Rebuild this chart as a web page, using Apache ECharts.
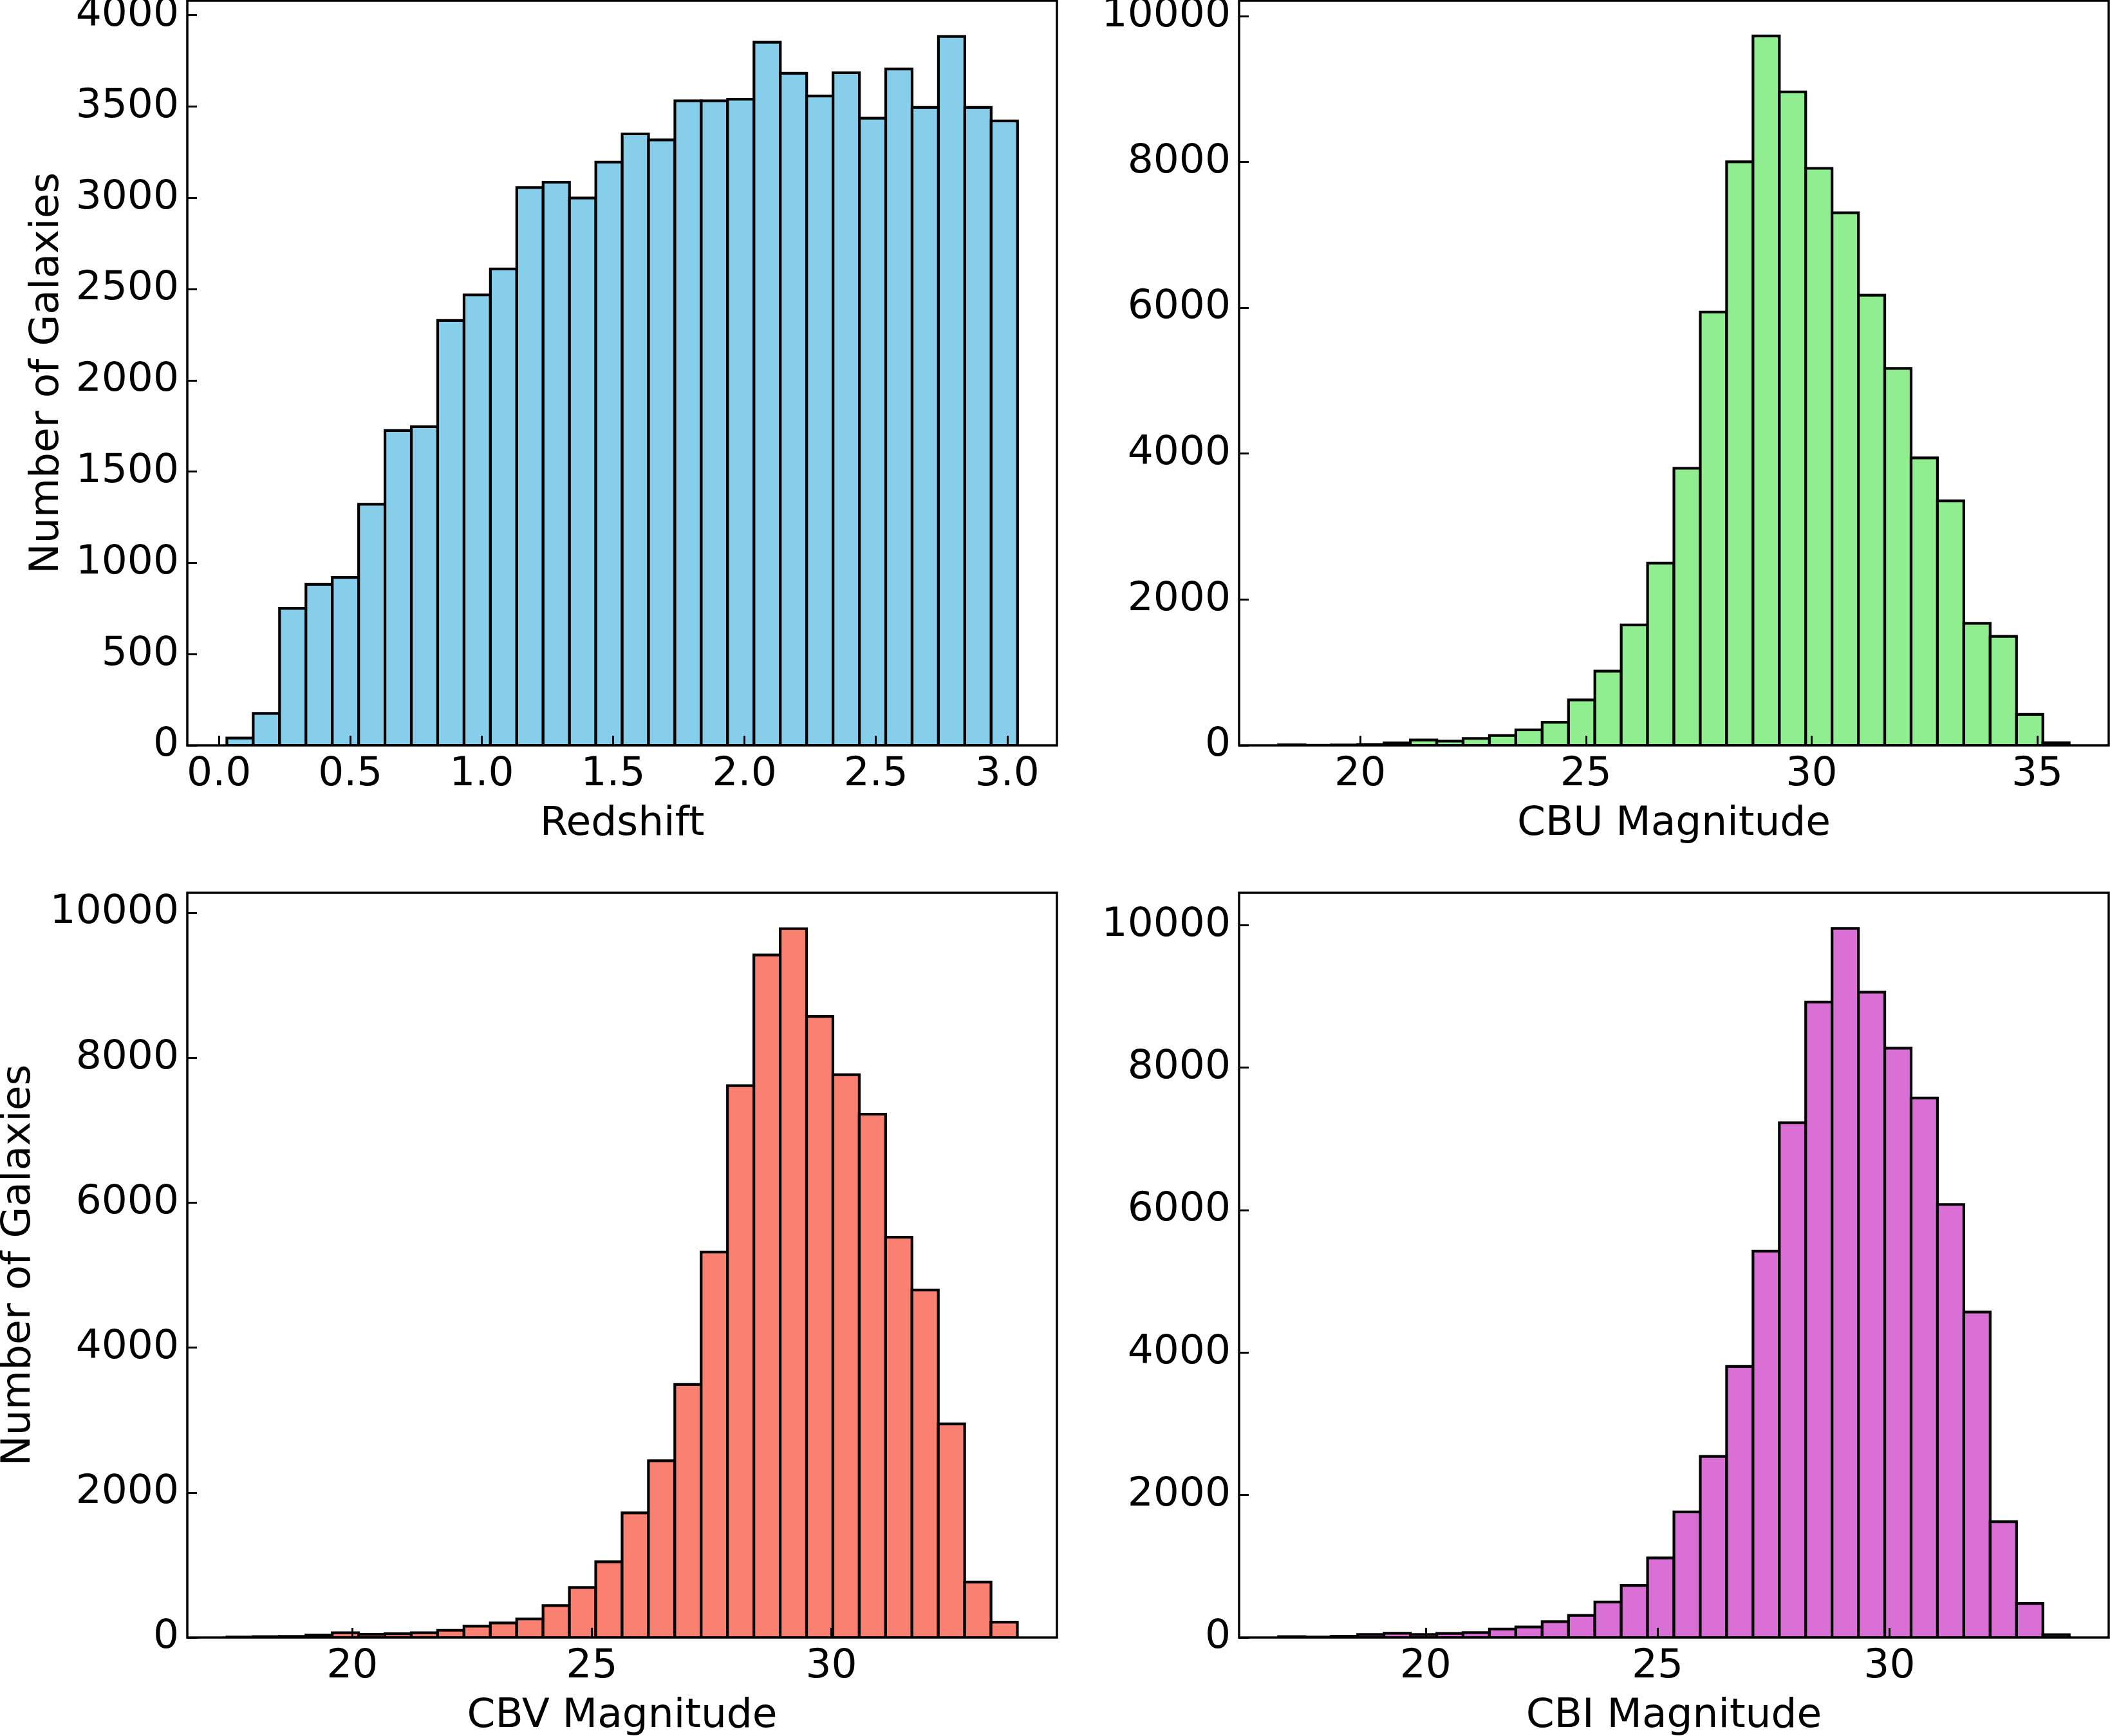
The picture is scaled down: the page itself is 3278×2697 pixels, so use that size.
<!DOCTYPE html>
<html>
<head>
<meta charset="utf-8">
<script src="https://cdn.jsdelivr.net/npm/echarts@6/dist/echarts.min.js"></script>
<style>
  html, body { margin: 0; padding: 0; background: #fff; }
  #chart { width: 3278px; height: 2697px; }
</style>
</head>
<body>
<div id="chart"></div>
<script>
// histogram data: first bin edge, bin width, counts
var redshiftStart = 0.030, redshiftWidth = 0.1003;
var redshiftCounts = [40, 175, 751, 882, 920, 1321, 1725, 1746, 2328, 2468,
    2610, 3056, 3085, 2999, 3195, 3350, 3317, 3531, 3531, 3540,
    3852, 3682, 3558, 3685, 3436, 3706, 3495, 3884, 3495, 3421];

var cbuStart = 18.193, cbuWidth = 0.5838;
var cbuCounts = [8, 2, 6, 12, 35, 74, 59, 95, 136, 213,
    316, 623, 1019, 1651, 2498, 3799, 5941, 8000, 9725, 8959,
    7911, 7301, 6171, 5167, 3941, 3353, 1673, 1494, 424, 37];

var cbvStart = 17.381, cbvWidth = 0.5501;
var cbvCounts = [9, 12, 15, 35, 65, 44, 53, 65, 100, 156,
    201, 257, 440, 689, 1045, 1720, 2439, 3492, 5318, 7614,
    9417, 9780, 8568, 7765, 7220, 5523, 4795, 2947, 765, 212];

var cbiStart = 16.830, cbiWidth = 0.5682;
var cbiCounts = [12, 9, 18, 42, 60, 42, 57, 69, 118, 148,
    223, 311, 498, 731, 1117, 1764, 2542, 3806, 5424, 7227,
    8921, 9954, 9060, 8274, 7573, 6079, 4569, 1626, 478, 39];

// tick labels
var redshiftTicks = [0.0, 0.5, 1.0, 1.5, 2.0, 2.5, 3.0];
var cbuTicks = [20, 25, 30, 35];
var magTicks = [20, 25, 30];
var redshiftYTicks = [0, 500, 1000, 1500, 2000, 2500, 3000, 3500, 4000];
var countYTicks = [0, 2000, 4000, 6000, 8000, 10000];

var FONT = 'DejaVu Sans';
var panels = [
    {start: redshiftStart, width: redshiftWidth, counts: redshiftCounts, color: '#87CEEB',
     xmin: -0.1205, xmax: 3.189, ymax: 4080, xticks: redshiftTicks, yticks: redshiftYTicks,
     xname: 'Redshift', yname: 'Number of Galaxies', ygap: 186, dec: 1,
     left: 291, top: 1},
    {start: cbuStart, width: cbuWidth, counts: cbuCounts, color: '#90EE90',
     xmin: 17.317, xmax: 36.582, ymax: 10210, xticks: cbuTicks, yticks: countYTicks,
     xname: 'CBU Magnitude', yname: '', ygap: 0, dec: 0,
     left: 1925, top: 1},
    {start: cbvStart, width: cbvWidth, counts: cbvCounts, color: '#FA8072',
     xmin: 16.556, xmax: 34.710, ymax: 10275, xticks: magTicks, yticks: countYTicks,
     xname: 'CBV Magnitude', yname: 'Number of Galaxies', ygap: 230, dec: 0,
     left: 291, top: 1387},
    {start: cbiStart, width: cbiWidth, counts: cbiCounts, color: '#DA70D6',
     xmin: 15.978, xmax: 34.727, ymax: 10455, xticks: magTicks, yticks: countYTicks,
     xname: 'CBI Magnitude', yname: '', ygap: 0, dec: 0,
     left: 1925, top: 1387}
];

var grids = [], xAxes = [], yAxes = [], series = [];

panels.forEach(function (p, i) {
    var bins = [];
    for (var k = 0; k < p.counts.length; k++) {
        bins.push([p.start + k * p.width, p.start + (k + 1) * p.width, p.counts[k]]);
    }
    grids.push({
        left: p.left, top: p.top, width: 1351, height: 1157,
        show: true, borderColor: '#000', borderWidth: 3.5,
        backgroundColor: 'transparent', containLabel: false, outerBoundsMode: 'none'
    });
    xAxes.push({
        type: 'value', gridIndex: i, min: p.xmin, max: p.xmax, z: 5,
        name: p.xname, nameLocation: 'middle', nameGap: 91, nameMoveOverlap: false,
        nameTextStyle: {fontFamily: FONT, fontSize: 63, color: '#000'},
        axisLine: {show: false, onZero: false},
        splitLine: {show: false},
        axisTick: {show: true, inside: true, length: 15, customValues: p.xticks,
                   lineStyle: {color: '#000', width: 3}},
        axisLabel: {show: true, margin: 14, customValues: p.xticks,
                    fontFamily: FONT, fontSize: 63, color: '#000',
                    formatter: (function (d) { return function (v) { return v.toFixed(d); }; })(p.dec)}
    });
    yAxes.push({
        type: 'value', gridIndex: i, min: 0, max: p.ymax, z: 5,
        name: p.yname, nameLocation: 'middle', nameGap: p.ygap, nameRotate: 90, nameMoveOverlap: false,
        nameTextStyle: {fontFamily: FONT, fontSize: 63, color: '#000'},
        axisLine: {show: false, onZero: false},
        splitLine: {show: false},
        axisTick: {show: true, inside: true, length: 15, customValues: p.yticks,
                   lineStyle: {color: '#000', width: 3}},
        axisLabel: {show: true, margin: 13, customValues: p.yticks,
                    fontFamily: FONT, fontSize: 63, color: '#000',
                    formatter: function (v) { return String(v); }}
    });
    series.push({
        type: 'custom', xAxisIndex: i, yAxisIndex: i,
        encode: {x: [0, 1], y: 2},
        data: bins,
        clip: true,
        renderItem: (function (color) {
            return function (params, api) {
                var a = api.coord([api.value(0), api.value(2)]);
                var b = api.coord([api.value(1), 0]);
                return {
                    type: 'rect',
                    shape: {x: a[0], y: a[1], width: b[0] - a[0], height: b[1] - a[1]},
                    style: {fill: color, stroke: '#000', lineWidth: 4.2}
                };
            };
        })(p.color)
    });
});

var myChart = echarts.init(document.getElementById('chart'), null, {renderer: 'canvas'});
var option = {
    backgroundColor: '#fff',
    animation: false,
    grid: grids,
    xAxis: xAxes,
    yAxis: yAxes,
    series: series
};
myChart.setOption(option);
</script>
</body>
</html>
